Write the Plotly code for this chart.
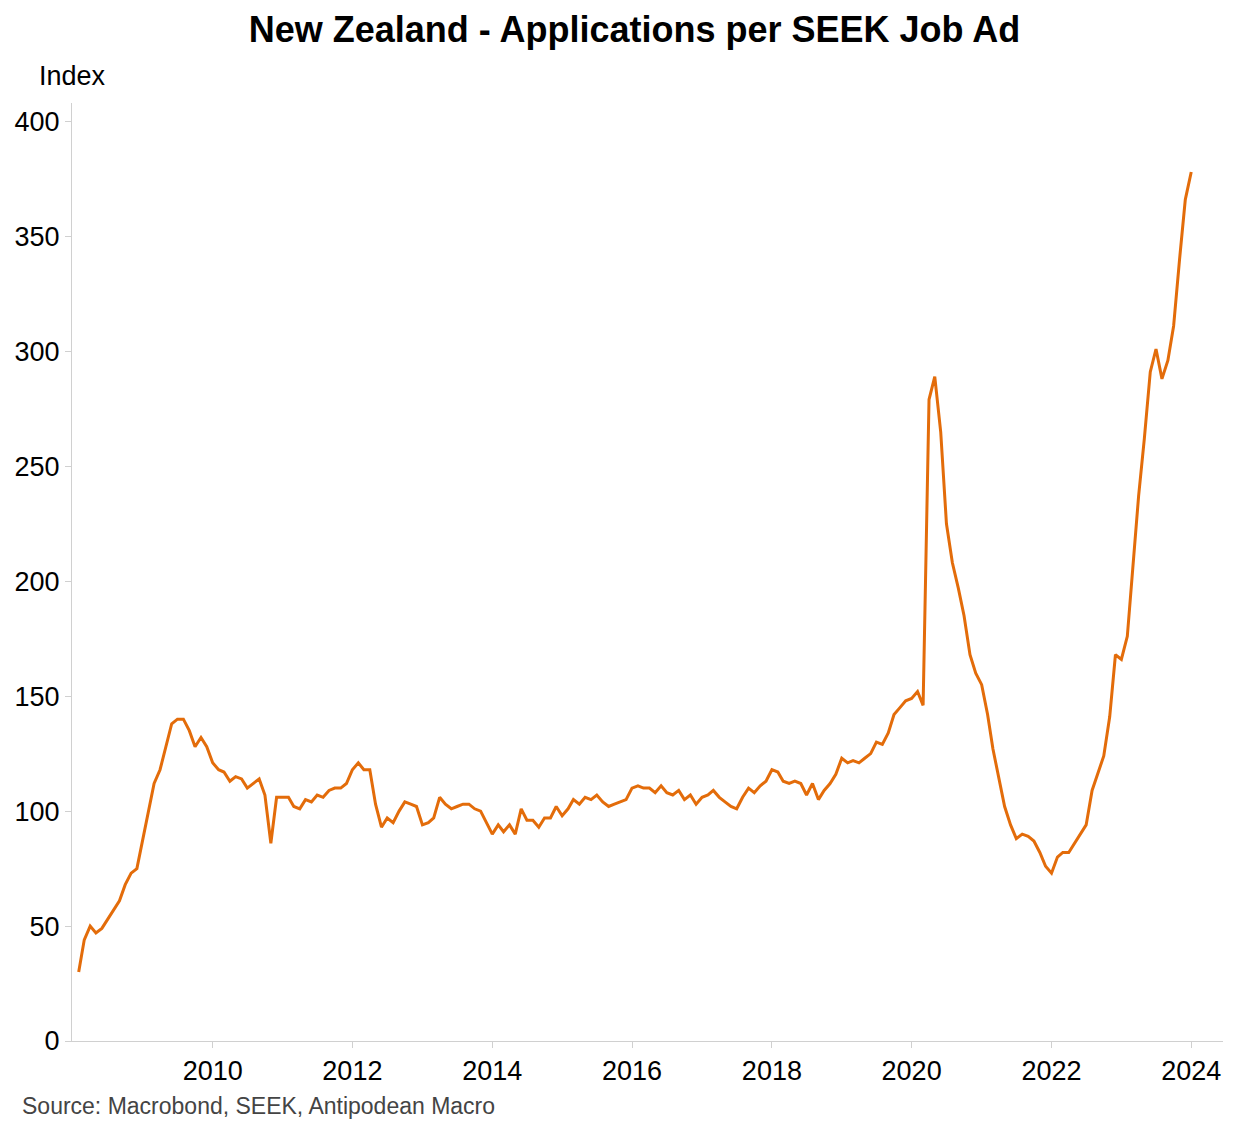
import pandas as pd
import plotly.graph_objects as go

# Monthly index, Feb 2008 - Jan 2024
start_month = "2008-02-01"
values = [
    30, 44, 50, 47, 49, 53, 57, 61, 68, 73, 75,
    88, 101, 112, 118, 128, 138, 140, 140, 135, 128, 132, 128,
    121, 118, 117, 113, 115, 114, 110, 112, 114, 107, 86, 106,
    106, 106, 102, 101, 105, 104, 107, 106, 109, 110, 110, 112,
    118, 121, 118, 118, 103, 93, 97, 95, 100, 104, 103, 102,
    94, 95, 97, 106, 103, 101, 102, 103, 103, 101, 100, 95,
    90, 94, 91, 94, 90, 101, 96, 96, 93, 97, 97, 102,
    98, 101, 105, 103, 106, 105, 107, 104, 102, 103, 104, 105,
    110, 111, 110, 110, 108, 111, 108, 107, 109, 105, 107, 103,
    106, 107, 109, 106, 104, 102, 101, 106, 110, 108, 111, 113,
    118, 117, 113, 112, 113, 112, 107, 112, 105, 109, 112, 116,
    123, 121, 122, 121, 123, 125, 130, 129, 134, 142, 145, 148,
    149, 152, 146, 279, 289, 265, 225, 208, 197, 185, 168, 160,
    155, 142, 127, 114, 102, 94, 88, 90, 89, 87, 82, 76,
    73, 80, 82, 82, 86, 90, 94, 109, 117, 124, 141, 168,
    166, 176, 205, 237, 262, 291, 301, 288, 296, 311, 340, 366,
    378,
]
dates = pd.date_range(start_month, periods=len(values), freq="MS")
tick_years = [f"{y}-01-01" for y in range(2010, 2025, 2)]
tick_labels = [str(y) for y in range(2010, 2025, 2)]

fig = go.Figure(go.Scatter(x=dates, y=values, mode="lines",
                           line=dict(color="#E36C0A", width=3)))

font = "Liberation Sans, Arial, sans-serif"
fig.update_layout(
    width=1253, height=1122,
    plot_bgcolor="white", paper_bgcolor="white",
    font=dict(family=font, size=27, color="black"),
    margin=dict(l=64, r=38, t=95, b=89, autoexpand=False),
    showlegend=False,
    title=dict(text="<b>New Zealand - Applications per SEEK Job Ad</b>",
               x=0.5, xanchor="center", y=0.992, yanchor="top",
               font=dict(size=36)),
    annotations=[
        dict(text="Index", xref="paper", yref="paper", x=-0.03, y=1.0,
             yshift=10, xanchor="left", yanchor="bottom", showarrow=False,
             font=dict(size=27)),
        dict(text="Source: Macrobond, SEEK, Antipodean Macro", xref="paper",
             yref="paper", x=-0.045, y=0, yshift=-50, xanchor="left",
             yanchor="top", showarrow=False, font=dict(size=23, color="#444")),
    ],
)
fig.update_xaxes(range=["2007-12-28", "2024-06-15"], tickvals=tick_years,
                 ticktext=tick_labels, showgrid=False, showline=True,
                 linecolor="#d0d0d0", ticks="outside", ticklen=6,
                 tickcolor="#d0d0d0")
fig.update_yaxes(range=[0, 408], tickvals=list(range(0, 401, 50)),
                 showgrid=False, showline=True, linecolor="#d0d0d0",
                 ticks="outside", ticklen=6, tickcolor="#d0d0d0", zeroline=False)

fig.write_html("out.html")
